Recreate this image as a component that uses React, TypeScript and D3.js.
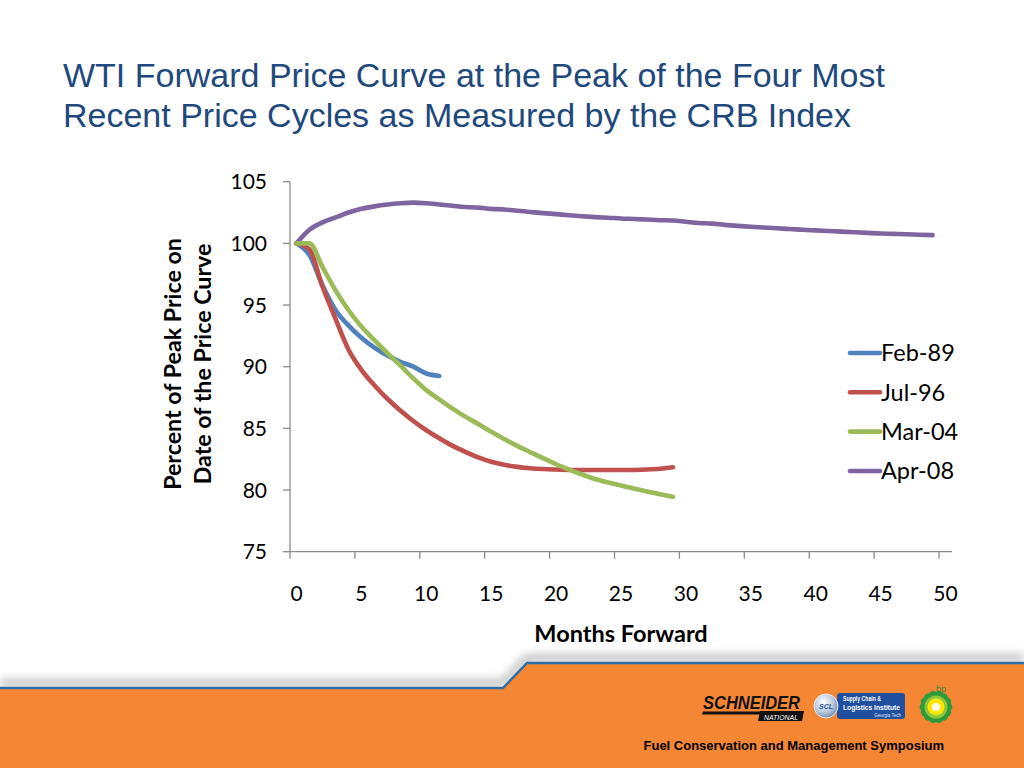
import React from "react";
import * as d3 from "d3";

// Months forward (category axis 0..50) and labelled ticks
const monthCategories: number[] = Array.from({ length: 51 }, (_, i) => i);
const monthTickLabels: number[] = [0, 5, 10, 15, 20, 25, 30, 35, 40, 45, 50];
const percentTicks: number[] = [75, 80, 85, 90, 95, 100, 105];

// Percent of peak price, one value per month forward
const feb89: number[] = [100, 99.05, 96.6, 94.6, 93.35, 92.35, 91.55, 90.9, 90.4, 90.0, 89.45, 89.25];
const jul96: number[] = [
  100, 99.5, 96.5, 93.9, 91.4, 89.75, 88.5, 87.4, 86.45, 85.6, 84.85, 84.2, 83.6, 83.1, 82.65,
  82.3, 82.05, 81.88, 81.77, 81.7, 81.66, 81.63, 81.62, 81.62, 81.62, 81.62, 81.63, 81.66, 81.72, 81.84,
];
const mar04: number[] = [
  100, 100, 98.1, 96.2, 94.6, 93.25, 92.15, 91.1, 90.1, 89.05, 88.1, 87.35, 86.62, 85.95, 85.35,
  84.72, 84.13, 83.58, 83.08, 82.59, 82.09, 81.66, 81.26, 80.9, 80.62, 80.37, 80.12, 79.88, 79.66, 79.45,
];
const apr08: number[] = [
  100, 101.1, 101.7, 102.1, 102.5, 102.8, 103.0, 103.15, 103.25, 103.3, 103.25, 103.15, 103.05,
  102.95, 102.9, 102.8, 102.75, 102.65, 102.55, 102.45, 102.37, 102.28, 102.2, 102.13, 102.08,
  102.02, 101.98, 101.93, 101.88, 101.85, 101.75, 101.65, 101.6, 101.5, 101.42, 101.35, 101.28,
  101.22, 101.17, 101.1, 101.05, 101.0, 100.95, 100.9, 100.85, 100.8, 100.77, 100.74, 100.7, 100.67,
];

const seriesNames = ["Feb-89", "Jul-96", "Mar-04", "Apr-08"];
const seriesValues = [feb89, jul96, mar04, apr08];
const seriesColors = ["#4F81BD", "#C0504D", "#9BBB59", "#8064A2"];

const W = 1024;
const H = 768;
const PLOT = { left: 290, right: 952, top: 181.7, bottom: 551.7 };
const AXIS_FONT = "Lato, 'Open Sans', sans-serif";
const TITLE_FONT = "'Liberation Sans', Arial, sans-serif";
const AXIS_GREY = "#8C8C8C";

export default function App() {
  const x = d3
    .scaleBand<number>()
    .domain(monthCategories)
    .range([PLOT.left, PLOT.right])
    .padding(0);
  const y = d3.scaleLinear().domain([75, 105]).range([PLOT.bottom, PLOT.top]);
  const cx = (m: number) => (x(m) as number) + x.bandwidth() / 2;

  const line = d3
    .line<number>()
    .x((_, i) => cx(i))
    .y((d) => y(d))
    .curve(d3.curveMonotoneX);

  const bannerEdge = "M0,688 L503,688 L527,663 L1024,663";
  const bannerFill = bannerEdge + " L1024,768 L0,768 Z";

  // legend rows
  const legendY = [353, 392.3, 431.6, 471];

  // BP helios petals
  const petals = d3.range(14).map((i) => (i / 14) * Math.PI * 2);

  return (
    <svg
      width={W}
      height={H}
      viewBox={`0 0 ${W} ${H}`}
      style={{ position: "absolute", left: 0, top: 0, background: "#fff" }}
    >
      <defs>
        <filter id="edgeShadow" x="-5%" y="-100%" width="110%" height="300%">
          <feGaussianBlur stdDeviation="4" />
        </filter>
        <radialGradient id="sclGlobe" cx="40%" cy="35%" r="70%">
          <stop offset="0%" stopColor="#ffffff" />
          <stop offset="60%" stopColor="#b7c6dc" />
          <stop offset="100%" stopColor="#6f86aa" />
        </radialGradient>
      </defs>
      <rect x={0} y={0} width={W} height={H} fill="#fff" />

      {/* Title */}
      <text fontFamily={TITLE_FONT} fontSize={34} fill="#1F497D">
        <tspan x={63} y={87}>WTI Forward Price Curve at the Peak of the Four Most</tspan>
        <tspan x={63} y={127}>Recent Price Cycles as Measured by the CRB Index</tspan>
      </text>

      {/* Axes */}
      <line x1={PLOT.left} x2={PLOT.left} y1={PLOT.top} y2={PLOT.bottom} stroke={AXIS_GREY} strokeWidth={1.3} />
      <line x1={PLOT.left} x2={PLOT.right} y1={PLOT.bottom} y2={PLOT.bottom} stroke={AXIS_GREY} strokeWidth={1.3} />
      {percentTicks.map((t) => (
        <g key={"yt" + t}>
          <line x1={PLOT.left - 7} x2={PLOT.left} y1={y(t)} y2={y(t)} stroke={AXIS_GREY} strokeWidth={1.3} />
          <text
            x={267}
            y={y(t)}
            dy="0.36em"
            textAnchor="end"
            fontFamily={AXIS_FONT}
            fontSize={21}
            fill="#000"
          >
            {t}
          </text>
        </g>
      ))}
      {monthTickLabels.map((m) => (
        <g key={"xt" + m}>
          <line
            x1={x(m) as number}
            x2={x(m) as number}
            y1={PLOT.bottom}
            y2={PLOT.bottom + 7}
            stroke={AXIS_GREY}
            strokeWidth={1.3}
          />
          <text x={cx(m)} y={601} textAnchor="middle" fontFamily={AXIS_FONT} fontSize={21} fill="#000">
            {m}
          </text>
        </g>
      ))}

      {/* Axis titles */}
      <text
        x={621}
        y={642}
        textAnchor="middle"
        fontFamily={AXIS_FONT}
        fontWeight="bold"
        fontSize={23.5}
        fill="#000"
      >
        Months Forward
      </text>
      <g transform="translate(181,364) rotate(-90)">
        <text x={0} y={0} textAnchor="middle" fontFamily={AXIS_FONT} fontWeight="bold" fontSize={23.2} fill="#000">
          Percent of Peak Price on
        </text>
        <text x={0} y={30} textAnchor="middle" fontFamily={AXIS_FONT} fontWeight="bold" fontSize={23.2} fill="#000">
          Date of the Price Curve
        </text>
      </g>

      {/* Series lines (drawn so the later series sit on top) */}
      {[3, 0, 1, 2].map((si) => (
        <path
          key={seriesNames[si]}
          d={line(seriesValues[si]) || ""}
          fill="none"
          stroke={seriesColors[si]}
          strokeWidth={4.6}
          strokeLinecap="round"
          strokeLinejoin="round"
        />
      ))}

      {/* Legend */}
      {seriesNames.map((name, i) => (
        <g key={"lg" + name}>
          <line x1={850} x2={880} y1={legendY[i]} y2={legendY[i]} stroke={seriesColors[i]} strokeWidth={4.6} strokeLinecap="round" />
          <text x={881} y={legendY[i]} dy="0.36em" fontFamily={AXIS_FONT} fontSize={23.5} fill="#000">
            {name}
          </text>
        </g>
      ))}

      {/* Footer banner */}
      <path d={bannerEdge} transform="translate(0,-5)" fill="none" stroke="#9a9a9a" strokeWidth={8} opacity={0.6} filter="url(#edgeShadow)" />
      <path d={bannerFill} fill="#F58634" />
      <path d={bannerEdge} fill="none" stroke="#2E6DA4" strokeWidth={2.5} />

      {/* Schneider National */}
      <text
        x={703}
        y={709}
        fontFamily={TITLE_FONT}
        fontWeight="bold"
        fontStyle="italic"
        fontSize={19}
        textLength={97}
        lengthAdjust="spacingAndGlyphs"
        fill="#111"
      >
        SCHNEIDER
      </text>
      <polygon points="703,711.5 762,711.5 761,714.5 702,714.5" fill="#111" />
      <polygon points="760,711 804,711 802,721 758,721" fill="#111" />
      <text x={764} y={720} fontFamily={TITLE_FONT} fontStyle="italic" fontSize={6.5} fill="#fff" textLength={34} lengthAdjust="spacingAndGlyphs">
        NATIONAL
      </text>

      {/* Supply Chain & Logistics Institute */}
      <rect x={837} y={693} width={68} height={26} rx={3} fill="#1F4F9E" />
      <circle cx={826} cy={706} r={12} fill="url(#sclGlobe)" stroke="#e8eef6" strokeWidth={1} />
      <text x={826} y={708.5} textAnchor="middle" fontFamily={TITLE_FONT} fontWeight="bold" fontStyle="italic" fontSize={7} fill="#2a4f9a">
        SCL
      </text>
      <text x={843} y={701} fontFamily={TITLE_FONT} fontWeight="bold" fontSize={7} fill="#fff" textLength={38} lengthAdjust="spacingAndGlyphs">
        Supply Chain &amp;
      </text>
      <text x={843} y={709.5} fontFamily={TITLE_FONT} fontWeight="bold" fontSize={7} fill="#fff" textLength={57} lengthAdjust="spacingAndGlyphs">
        Logistics Institute
      </text>
      <text x={901} y={716.5} textAnchor="end" fontFamily={TITLE_FONT} fontSize={4.5} fill="#dfe7f3">
        Georgia Tech
      </text>

      {/* BP helios */}
      <g transform="translate(936,707)">
        {petals.map((a, i) => (
          <circle key={"p" + i} cx={Math.cos(a) * 12} cy={Math.sin(a) * 12} r={4.4} fill="#2E9B3A" />
        ))}
        <circle r={11.5} fill="#8DC63F" />
        <circle r={8.5} fill="#FFE600" />
        <circle r={4} fill="#FFFFF0" />
      </g>
      <text x={941} y={692} textAnchor="middle" fontFamily={TITLE_FONT} fontSize={9} fill="#2E8B3A">
        bp
      </text>

      {/* Footer caption */}
      <text x={944} y={750} textAnchor="end" fontFamily={TITLE_FONT} fontWeight="bold" fontSize={13} fill="#000">
        Fuel Conservation and Management Symposium
      </text>
    </svg>
  );
}
